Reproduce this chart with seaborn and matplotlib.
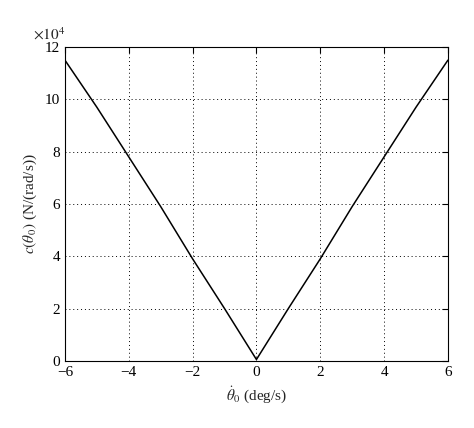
import matplotlib
matplotlib.use("Agg")
import matplotlib.pyplot as plt
import seaborn as sns
import pandas as pd
from matplotlib.ticker import FuncFormatter

theta_dot = [-6, -5, -4, -3, -2, -1, 0, 1, 2, 3, 4, 5, 6]
c_vals = [11.5e4, 9.7e4, 7.8e4, 5.9e4, 3.9e4, 2.0e4, 0.05e4, 2.0e4, 3.9e4, 5.9e4, 7.8e4, 9.7e4, 11.5e4]
df = pd.DataFrame({"x": theta_dot, "y": c_vals})

sns.set_style("white")
plt.rcParams['font.family'] = ['Liberation Serif', 'DejaVu Serif']
plt.rcParams['mathtext.fontset'] = 'stix'

fig = plt.figure(figsize=(4.74, 4.28), dpi=100)
ax = fig.add_axes([0.137, 0.157, 0.808, 0.733])
sns.lineplot(data=df, x="x", y="y", ax=ax, color="black", linewidth=1.1)
ax.set_xlim(-6, 6)
ax.set_ylim(0, 12e4)
ax.set_xticks(range(-6, 7, 2))
ax.set_yticks([i * 2e4 for i in range(7)])
ax.yaxis.set_major_formatter(FuncFormatter(lambda v, p: f"{v/1e4:g}"))
ax.text(0.0, 1.015, r"$\times 10^4$", transform=ax.transAxes, ha="right", va="bottom", fontsize=11)
ax.grid(True, color="black", linestyle=(0, (1, 3)), linewidth=0.7)
for s in ax.spines.values():
    s.set_color("black"); s.set_linewidth(0.8)
ax.tick_params(direction="in", length=4, labelsize=11, colors="black", top=True, right=True)
ax.set_xlabel(r"$\dot{\theta}_0$ (deg/s)", fontsize=11)
ax.set_ylabel(r"$c(\theta_0)$ (N/(rad/s))", fontsize=11)
fig.savefig("out.png", dpi=100)
